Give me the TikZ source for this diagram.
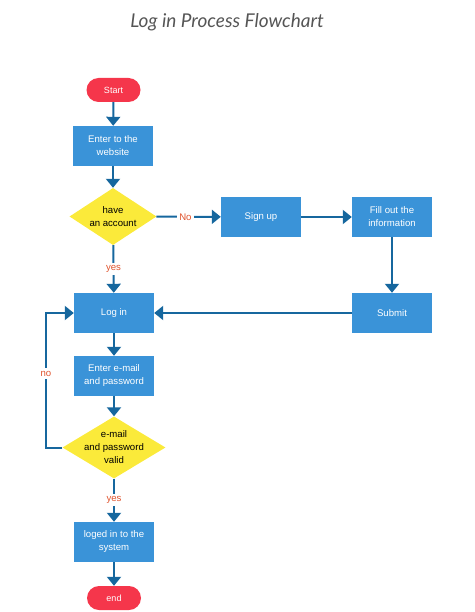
\documentclass[tikz,border=0pt]{standalone}
\usepackage{fontspec}
\setmainfont{Liberation Sans}
\newfontfamily\titlefont{Lato}
\usetikzlibrary{shapes.geometric,arrows.meta}
\definecolor{boxblue}{HTML}{3A93D8}
\definecolor{linkblue}{HTML}{16679E}
\definecolor{termred}{HTML}{F5364B}
\definecolor{decyellow}{HTML}{FBEA3A}
\definecolor{lblred}{HTML}{E0542E}
\definecolor{titlegray}{HTML}{555555}
\tikzset{
  procbox/.style={rectangle, fill=boxblue, text=white, minimum width=80pt, minimum height=40pt, inner sep=0pt, align=center, font=\fontsize{9.6}{13}\selectfont},
  termbox/.style={rectangle, rounded corners=12pt, fill=termred, text=white, minimum width=54pt, minimum height=24pt, inner sep=0pt, font=\fontsize{9}{11}\selectfont},
  decbox/.style={diamond, fill=decyellow, inner sep=0pt},
  dectext/.style={text=black, align=center, inner sep=0pt, font=\fontsize{9.6}{13}\selectfont},
  link/.style={draw=linkblue, line width=2pt, -{Triangle[width=14pt,length=9pt]}},
  lbl/.style={fill=white, text=lblred, inner sep=2.5pt, font=\fontsize{9.6}{11}\selectfont}
}
\begin{document}
\begin{tikzpicture}[x=1pt,y=1pt]
\useasboundingbox (0,0) rectangle (474,-612);
\node[font=\titlefont\itshape\fontsize{19}{22}\selectfont, text=titlegray] (title) at (227,-22) {Log in Process Flowchart};
\node[termbox] (start) at (113.5,-90) {Start};
\node[procbox] (enter) at (113,-146) {Enter to the\\website};
\node[decbox, minimum width=87pt, minimum height=57pt] (have) at (113,-216.5) {};
\node[dectext] (havetext) at (have.center) {have\\an account};
\node[procbox] (signup) at (261,-217) {Sign up};
\node[procbox] (fill) at (392,-217) {Fill out the\\information};
\node[procbox] (submit) at (392,-313) {Submit};
\node[procbox] (login) at (114,-313) {Log in};
\node[procbox] (email) at (114,-376) {Enter e-mail\\and password};
\node[decbox, minimum width=103pt, minimum height=62pt] (valid) at (114,-447.5) {};
\node[dectext] (validtext) at (valid.center) {e-mail\\and password\\valid};
\node[procbox] (loged) at (114,-542) {loged in to the\\system};
\node[termbox] (end) at (114,-598) {end};
\coordinate (loopL1) at (46,-447.5);
\coordinate (loopL2) at (46,-313);

\draw[link] (start) -- (enter);
\draw[link] (enter) -- (have);
\draw[link] (have) -- node[lbl, pos=0.45] {No} (signup);
\draw[link] (signup) -- (fill);
\draw[link] (fill) -- (submit);
\draw[link] (submit) -- (login);
\draw[link] (have) -- node[lbl, pos=0.5] {yes} (login);
\draw[link] (login) -- (email);
\draw[link] (email) -- (valid);
\draw[link] (valid.west) -- (loopL1) -- node[lbl, pos=0.55] {no} (loopL2) -- (login.west);
\draw[link] (valid) -- node[lbl, pos=0.5] {yes} (loged);
\draw[link] (loged) -- (end);
\end{tikzpicture}
\end{document}
